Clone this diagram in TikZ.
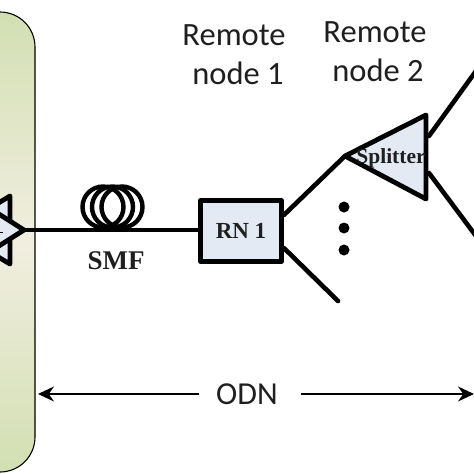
\documentclass[tikz,border=0pt]{standalone}
\usepackage{fontspec}
\setmainfont{Liberation Serif}
\newfontfamily\labelfont{Carlito}
\usetikzlibrary{arrows.meta}
\definecolor{boxfill}{HTML}{E3EAF4}
\definecolor{panelA}{HTML}{D2DFB2}
\definecolor{panelB}{HTML}{F1EEE0}
\tikzset{
  thick line/.style={line width=4.6pt,black,line cap=round},
  device/.style={draw=black,line width=4.8pt,fill=boxfill,line join=round},
  caption/.style={font=\labelfont\fontsize{32.5}{36}\selectfont,anchor=base,text=black!88},
  serifbold/.style={font=\bfseries\fontsize{23}{26}\selectfont,text=black!88},
  dotmark/.style={circle,fill=black,inner sep=0pt,minimum size=11pt},
  span/.style={line width=1.3pt,-{Stealth[length=16pt,width=15pt]}}
}
\begin{document}
\begin{tikzpicture}[x=1pt,y=-1pt]
\useasboundingbox (0,0) rectangle (474,474);
\path[top color=panelA,bottom color=panelA,middle color=panelB,draw=black,line width=1.1pt]
  (-20,12) -- (0,12) arc[start angle=-90,end angle=0,radius=35] -- (35,437) arc[start angle=0,end angle=90,radius=35] -- (-20,472) -- cycle;
\coordinate (tip) at (24,230);
\path[device] (-20,214) -- (10,196) -- (10,264) -- (-20,246) -- cycle;
\path[device] (-20,202) -- (tip) -- (-20,258) -- cycle;
\draw[line width=1pt] (0,232) -- (3,232);
\node[device,minimum width=81pt,minimum height=61pt,inner sep=0pt] (rn) at (241,231) {};
\node[serifbold] at (rn) {RN 1};
\draw[thick line] (tip) -- (rn.west |- 0,230);
\foreach \cx in {103,112.5,122}{
  \draw[line width=4.4pt] (\cx,207) circle[x radius=20.5,y radius=20.5];
}
\node[serifbold,font=\bfseries\fontsize{27}{30}\selectfont] (smf) at (116,261) {SMF};
\coordinate (spA) at (345,156);
\path[device] (spA) -- (426,115) -- (426,199) -- cycle;
\node[serifbold,font=\bfseries\fontsize{21.5}{25}\selectfont] (sp) at (391,158) {Splitter};
\draw[thick line] (rn.east |- 0,215) -- (spA);
\coordinate (lowEnd) at (338,301);
\draw[thick line] (rn.east |- 0,248) -- (lowEnd);
\coordinate (u) at (476,71);
\coordinate (d) at (476,236);
\draw[thick line] (429,136) -- (u);
\draw[thick line] (429,173) -- (d);
\node[dotmark] (d1) at (344,207) {};
\node[dotmark] (d2) at (344,228) {};
\node[dotmark] (d3) at (344,250) {};
\node[caption] (r1a) at (234,45) {Remote};
\node[caption] (r1b) at (238,84) {node 1};
\node[caption] (r2a) at (375,42) {Remote};
\node[caption] (r2b) at (378,81) {node 2};
\node[font=\labelfont\fontsize{32}{36}\selectfont,text=black!88] (odn) at (247,394) {ODN};
\coordinate (al) at (38,394);
\coordinate (ar) at (474,394);
\draw[span] (199,394) -- (al);
\draw[span] (301,394) -- (ar);
\end{tikzpicture}
\end{document}
